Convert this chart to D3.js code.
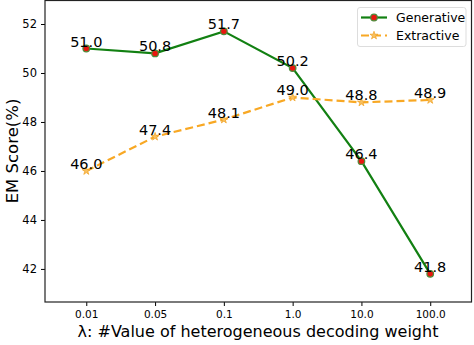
<!DOCTYPE html>
<html><head><meta charset="utf-8">
<script src="https://cdn.jsdelivr.net/npm/d3@7"></script>
<style>body{margin:0;background:#fff}svg{display:block}text{font-family:"DejaVu Sans",sans-serif}</style>
</head><body><svg id="c" width="474" height="345"></svg>
<script>
const categories = ["0.01","0.05","0.1","1.0","10.0","100.0"];
const generative = [51.0, 50.8, 51.7, 50.2, 46.4, 41.8];
const extractive = [46.0, 47.4, 48.1, 49.0, 48.8, 48.9];
const yTicks = [42, 44, 46, 48, 50, 52];
const seriesNames = ["Generative", "Extractive"];

const svg = d3.select("#c");
const L = 45, R = 471.5, T = 0.5, B = 302;
const x = d3.scaleLinear().domain([-0.6, categories.length - 1 + 0.6]).range([L, R]);
const y = d3.scaleLinear().domain([40.65, 52.96]).range([B, T]);

// axes
const yAxis = d3.axisLeft(y).tickValues(yTicks).tickSize(4).tickPadding(4).tickFormat(d3.format("d"));
const gy = svg.append("g").attr("transform", `translate(${L},0)`).call(yAxis);
gy.select(".domain").remove();
gy.selectAll("text").attr("font-size", 11.5).attr("fill", "#000");
gy.selectAll("line").attr("stroke", "#000");

const xAxis = d3.axisBottom(x).tickValues(d3.range(categories.length)).tickFormat(i => categories[i]).tickSize(4).tickPadding(5);
const gx = svg.append("g").attr("transform", `translate(0,${B})`).call(xAxis);
gx.select(".domain").remove();
gx.selectAll("text").attr("font-size", 10.5).attr("fill", "#000");
gx.selectAll("line").attr("stroke", "#000");

// frame
svg.append("rect").attr("x", L).attr("y", T).attr("width", R - L).attr("height", B - T)
  .attr("fill", "none").attr("stroke", "#222").attr("stroke-width", 1.2);

// lines
const line = d3.line().x((d, i) => x(i)).y(d => y(d));
svg.append("path").datum(generative).attr("d", line).attr("fill", "none")
  .attr("stroke", "#128012").attr("stroke-width", 2.2);
svg.append("path").datum(extractive).attr("d", line).attr("fill", "none")
  .attr("stroke", "#f8a824").attr("stroke-width", 2.2).attr("stroke-dasharray", "8,4");

// markers
const star = d3.symbol().type(d3.symbolStar).size(20);
svg.selectAll(".gm").data(generative).join("circle")
  .attr("cx", (d, i) => x(i)).attr("cy", d => y(d)).attr("r", 3.3)
  .attr("fill", "#e8170f").attr("stroke", "#4f8a3a").attr("stroke-width", 1.2);
svg.selectAll(".em").data(extractive).join("path")
  .attr("d", star).attr("transform", (d, i) => `translate(${x(i)},${y(d)})`)
  .attr("fill", "#f8c060").attr("stroke", "#f0a020").attr("stroke-width", 0.7);

// labels
svg.selectAll(".gl").data(generative).join("text")
  .attr("x", (d, i) => x(i)).attr("y", d => y(d) - 2).attr("text-anchor", "middle")
  .attr("font-size", 14.5).attr("fill", "#000").text(d => d.toFixed(1));
svg.selectAll(".el").data(extractive).join("text")
  .attr("x", (d, i) => x(i)).attr("y", d => y(d) - 2).attr("text-anchor", "middle")
  .attr("font-size", 14.5).attr("fill", "#000").text(d => d.toFixed(1));

// axis titles
svg.append("text").attr("x", 258).attr("y", 337).attr("text-anchor", "middle")
  .attr("font-size", 16).attr("fill", "#000").text("λ: #Value of heterogeneous decoding weight");
svg.append("text").attr("transform", `translate(18,151) rotate(-90)`).attr("text-anchor", "middle")
  .attr("font-size", 16.5).attr("fill", "#000").text("EM Score(%)");

// legend
const lg = svg.append("g");
lg.append("rect").attr("x", 357.5).attr("y", 7.5).attr("width", 108.5).attr("height", 39)
  .attr("rx", 2.5).attr("fill", "#fff").attr("stroke", "#ddd");
const ly = [17.5, 35.5];
lg.append("line").attr("x1", 361).attr("x2", 387).attr("y1", ly[0]).attr("y2", ly[0]).attr("stroke", "#128012").attr("stroke-width", 2.2);
lg.append("circle").attr("cx", 374).attr("cy", ly[0]).attr("r", 3.3).attr("fill", "#e8170f").attr("stroke", "#4f8a3a").attr("stroke-width", 1.2);
lg.append("line").attr("x1", 361).attr("x2", 387).attr("y1", ly[1]).attr("y2", ly[1]).attr("stroke", "#f8a824").attr("stroke-width", 2.2).attr("stroke-dasharray", "8,4");
lg.append("path").attr("d", star).attr("transform", `translate(374,${ly[1]})`).attr("fill", "#f8c060").attr("stroke", "#f0a020").attr("stroke-width", 0.7);
lg.selectAll(".lt").data(seriesNames).join("text").attr("x", 396).attr("y", (d, i) => ly[i] + 4.5)
  .attr("font-size", 12.5).attr("fill", "#000").text(d => d);
</script></body></html>
